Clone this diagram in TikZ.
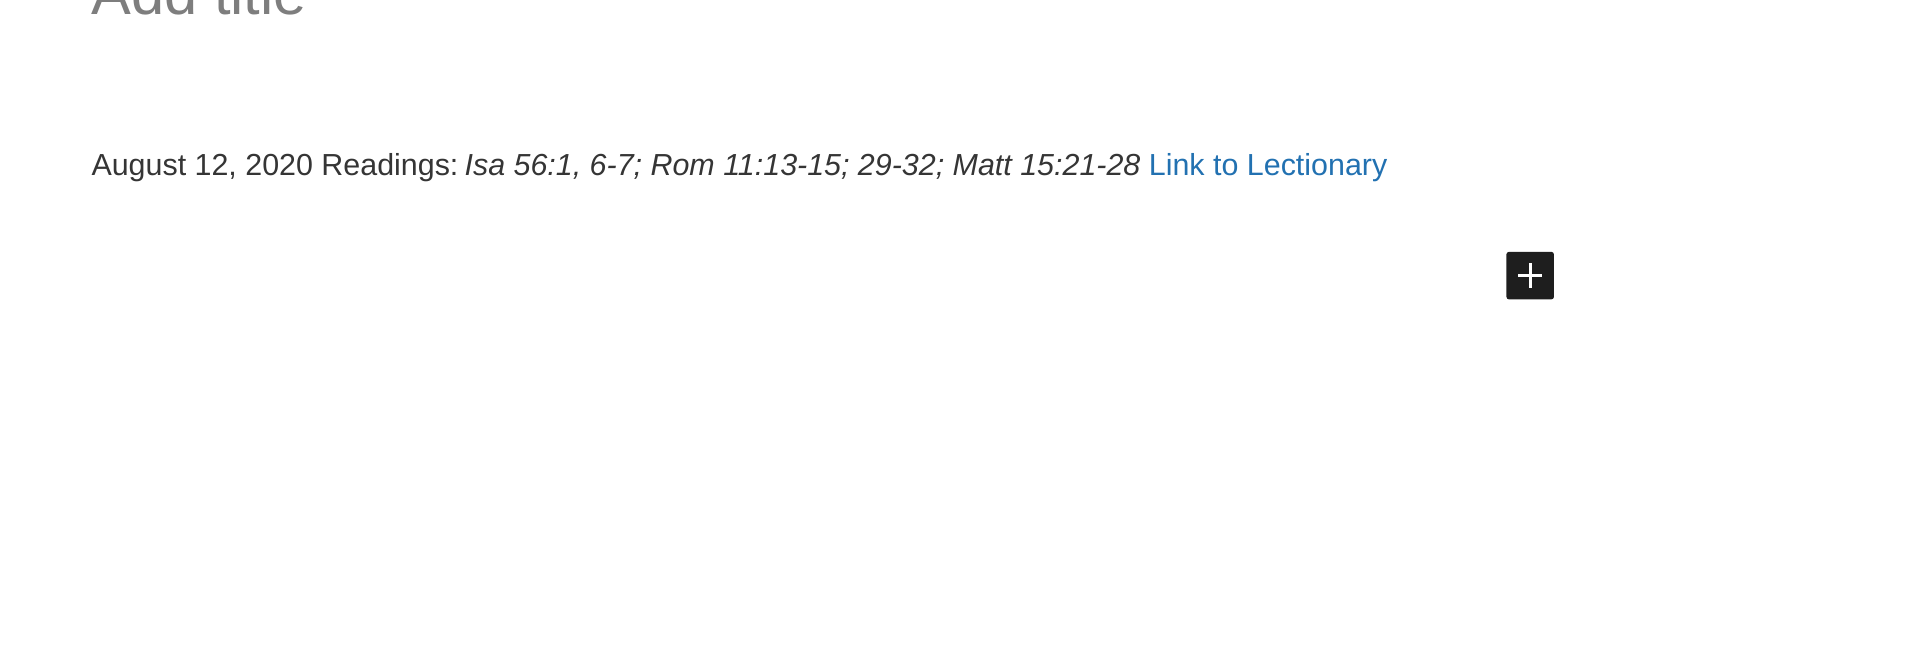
\documentclass[tikz,border=0pt]{standalone}
\usepackage{fontspec}
\setmainfont{Liberation Sans}
\definecolor{txt}{HTML}{1E1E1E}
\definecolor{ttl}{HTML}{7E7E7E}
\definecolor{lnk}{HTML}{2271B1}
\begin{document}
\begin{tikzpicture}[x=1pt,y=-1pt]
\useasboundingbox (0,0) rectangle (1568,541);
\node[anchor=base west,inner sep=0,text=ttl,font=\fontsize{49}{52}\selectfont] (title) at (75,12) {Add title};
\node[anchor=base west,inner sep=0,text=txt!90,font=\fontsize{25}{29}\selectfont] (line) at (75,144)
 {August 12, 2020 Readings:\hspace{0.2em}\textit{Isa 56:1, 6-7; Rom 11:13-15; 29-32; Matt 15:21-28} \textcolor{lnk}{Link to Lectionary}};
\node[fill=txt,rounded corners=2pt,minimum width=39,minimum height=39,inner sep=0] (plus) at (1257.5,226.5) {};
\draw[white,line width=2.2pt] (plus.center) ++(-10,0) -- ++(20,0);
\draw[white,line width=2.2pt] (plus.center) ++(0,-10) -- ++(0,20);
\end{tikzpicture}
\end{document}
